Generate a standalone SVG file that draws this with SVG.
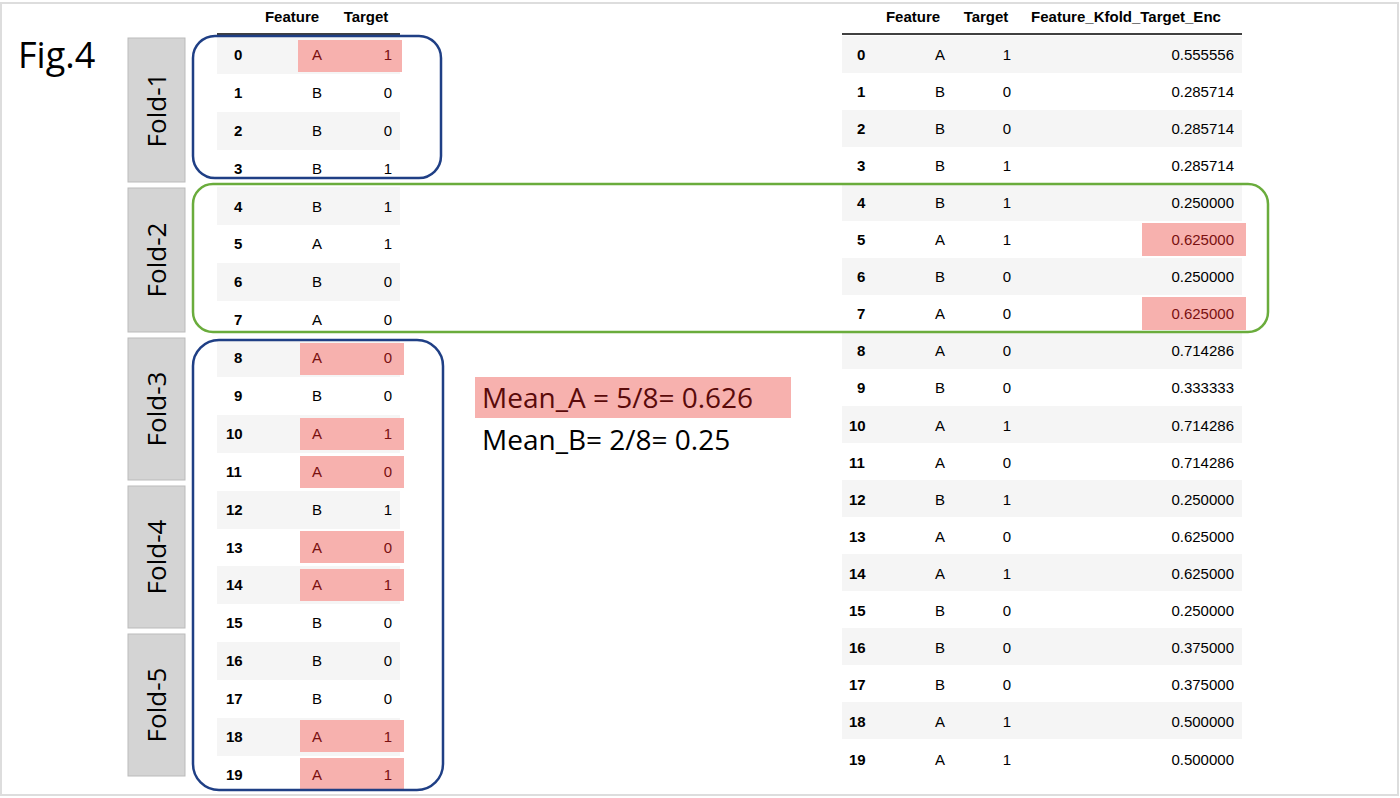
<svg xmlns="http://www.w3.org/2000/svg" width="1400" height="798" viewBox="0 0 1400 798">
<style>
text{font-family:"Liberation Sans",Arial,sans-serif;font-size:15px;fill:#000}
.h{font-weight:bold;font-size:15px}
.i{font-weight:bold}
.fold{fill:#d4d4d4;stroke:#bbb}
.ft{font-family:"Open Sans","Liberation Sans",sans-serif;font-size:26px}
.st{fill:#f5f5f5}
.hl{fill:#f7b1ae}
.ht{fill:#7a1010}
.blue{fill:none;stroke:#1f3f85;stroke-width:2.5}
.green{fill:none;stroke:#6aac3c;stroke-width:2.5}
</style>
<rect width="1400" height="798" fill="#fff"/>
<rect x="1" y="3" width="1397" height="792" fill="none" stroke="#ddd" stroke-width="2"/>
<text x="18" y="68" font-family="Open Sans, sans-serif" style="font-family:'Open Sans',sans-serif;font-size:36px">Fig.4</text>
<g id="folds">
<rect class="fold" x="128" y="38" width="57" height="144"/><text class="ft" transform="translate(166,110) rotate(-90)" text-anchor="middle">Fold-1</text>
<rect class="fold" x="128" y="188" width="57" height="144"/><text class="ft" transform="translate(166,260) rotate(-90)" text-anchor="middle">Fold-2</text>
<rect class="fold" x="128" y="338" width="57" height="142"/><text class="ft" transform="translate(166,409) rotate(-90)" text-anchor="middle">Fold-3</text>
<rect class="fold" x="128" y="486" width="57" height="142"/><text class="ft" transform="translate(166,557) rotate(-90)" text-anchor="middle">Fold-4</text>
<rect class="fold" x="128" y="634" width="57" height="142"/><text class="ft" transform="translate(166,705) rotate(-90)" text-anchor="middle">Fold-5</text>
</g>
<g id="left-table">
<text class="h" x="292" y="22" text-anchor="middle">Feature</text>
<text class="h" x="366" y="22" text-anchor="middle">Target</text>
<line x1="217" y1="34" x2="400" y2="34" stroke="#000" stroke-width="1.5"/>
<g id="lrows"></g>
</g>
<g id="left-rows">
<rect class="st" x="217" y="36" width="183" height="38"/><rect class="st" x="217" y="112" width="183" height="38"/><rect class="st" x="217" y="187" width="183" height="38"/><rect class="st" x="217" y="263" width="183" height="38"/><rect class="st" x="217" y="339" width="183" height="38"/><rect class="st" x="217" y="415" width="183" height="38"/><rect class="st" x="217" y="491" width="183" height="38"/><rect class="st" x="217" y="566" width="183" height="38"/><rect class="st" x="217" y="642" width="183" height="38"/><rect class="st" x="217" y="718" width="183" height="38"/>
<rect class="hl" x="298" y="40" width="104" height="32"/>
<rect class="hl" x="300" y="343" width="104" height="32"/>
<rect class="hl" x="300" y="418" width="104" height="32"/>
<rect class="hl" x="300" y="456" width="104" height="32"/>
<rect class="hl" x="300" y="531" width="104" height="32"/>
<rect class="hl" x="300" y="569" width="104" height="32"/>
<rect class="hl" x="300" y="720" width="104" height="32"/>
<rect class="hl" x="300" y="758" width="104" height="32"/>
<g class="i">
<text class="i" x="234" y="60">0</text><text class="i" x="234" y="98">1</text><text class="i" x="234" y="136">2</text><text class="i" x="234" y="174">3</text><text class="i" x="234" y="212">4</text><text class="i" x="234" y="249">5</text><text class="i" x="234" y="287">6</text><text class="i" x="234" y="325">7</text><text class="i" x="234" y="363">8</text><text class="i" x="234" y="401">9</text><text class="i" x="226" y="439">10</text><text class="i" x="226" y="477">11</text><text class="i" x="226" y="515">12</text><text class="i" x="226" y="553">13</text><text class="i" x="226" y="590">14</text><text class="i" x="226" y="628">15</text><text class="i" x="226" y="666">16</text><text class="i" x="226" y="704">17</text><text class="i" x="226" y="742">18</text><text class="i" x="226" y="780">19</text>
</g>
<g text-anchor="middle">
<text class="ht" x="317" y="60">A</text><text x="317" y="98">B</text><text x="317" y="136">B</text><text x="317" y="174">B</text><text x="317" y="212">B</text><text x="317" y="249">A</text><text x="317" y="287">B</text><text x="317" y="325">A</text><text class="ht" x="317" y="363">A</text><text x="317" y="401">B</text><text class="ht" x="317" y="439">A</text><text class="ht" x="317" y="477">A</text><text x="317" y="515">B</text><text class="ht" x="317" y="553">A</text><text class="ht" x="317" y="590">A</text><text x="317" y="628">B</text><text x="317" y="666">B</text><text x="317" y="704">B</text><text class="ht" x="317" y="742">A</text><text class="ht" x="317" y="780">A</text>
</g>
<g text-anchor="end">
<text class="ht" x="392" y="60">1</text><text x="392" y="98">0</text><text x="392" y="136">0</text><text x="392" y="174">1</text><text x="392" y="212">1</text><text x="392" y="249">1</text><text x="392" y="287">0</text><text x="392" y="325">0</text><text class="ht" x="392" y="363">0</text><text x="392" y="401">0</text><text class="ht" x="392" y="439">1</text><text class="ht" x="392" y="477">0</text><text x="392" y="515">1</text><text class="ht" x="392" y="553">0</text><text class="ht" x="392" y="590">1</text><text x="392" y="628">0</text><text x="392" y="666">0</text><text x="392" y="704">0</text><text class="ht" x="392" y="742">1</text><text class="ht" x="392" y="780">1</text>
</g>
</g>
<g id="right-table">
<text class="h" x="913" y="22" text-anchor="middle">Feature</text>
<text class="h" x="986" y="22" text-anchor="middle">Target</text>
<text class="h" x="1126" y="22" text-anchor="middle">Feature_Kfold_Target_Enc</text>
<line x1="842" y1="34" x2="1242" y2="34" stroke="#000" stroke-width="1.5"/>
<rect class="st" x="842" y="36" width="400" height="37"/><rect class="st" x="842" y="110" width="400" height="37"/><rect class="st" x="842" y="184" width="400" height="37"/><rect class="st" x="842" y="258" width="400" height="37"/><rect class="st" x="842" y="332" width="400" height="37"/><rect class="st" x="842" y="406" width="400" height="37"/><rect class="st" x="842" y="480" width="400" height="37"/><rect class="st" x="842" y="554" width="400" height="37"/><rect class="st" x="842" y="628" width="400" height="37"/><rect class="st" x="842" y="702" width="400" height="37"/>
<rect class="hl" x="1142" y="223" width="104" height="33"/>
<rect class="hl" x="1142" y="297" width="104" height="33"/>
<g>
<text class="i" x="857" y="60">0</text><text class="i" x="857" y="97">1</text><text class="i" x="857" y="134">2</text><text class="i" x="857" y="171">3</text><text class="i" x="857" y="208">4</text><text class="i" x="857" y="245">5</text><text class="i" x="857" y="282">6</text><text class="i" x="857" y="319">7</text><text class="i" x="857" y="356">8</text><text class="i" x="857" y="393">9</text><text class="i" x="849" y="431">10</text><text class="i" x="849" y="468">11</text><text class="i" x="849" y="505">12</text><text class="i" x="849" y="542">13</text><text class="i" x="849" y="579">14</text><text class="i" x="849" y="616">15</text><text class="i" x="849" y="653">16</text><text class="i" x="849" y="690">17</text><text class="i" x="849" y="727">18</text><text class="i" x="849" y="765">19</text>
</g>
<g text-anchor="middle">
<text x="940" y="60">A</text><text x="940" y="97">B</text><text x="940" y="134">B</text><text x="940" y="171">B</text><text x="940" y="208">B</text><text x="940" y="245">A</text><text x="940" y="282">B</text><text x="940" y="319">A</text><text x="940" y="356">A</text><text x="940" y="393">B</text><text x="940" y="431">A</text><text x="940" y="468">A</text><text x="940" y="505">B</text><text x="940" y="542">A</text><text x="940" y="579">A</text><text x="940" y="616">B</text><text x="940" y="653">B</text><text x="940" y="690">B</text><text x="940" y="727">A</text><text x="940" y="765">A</text>
</g>
<g text-anchor="end">
<text x="1011" y="60">1</text><text x="1011" y="97">0</text><text x="1011" y="134">0</text><text x="1011" y="171">1</text><text x="1011" y="208">1</text><text x="1011" y="245">1</text><text x="1011" y="282">0</text><text x="1011" y="319">0</text><text x="1011" y="356">0</text><text x="1011" y="393">0</text><text x="1011" y="431">1</text><text x="1011" y="468">0</text><text x="1011" y="505">1</text><text x="1011" y="542">0</text><text x="1011" y="579">1</text><text x="1011" y="616">0</text><text x="1011" y="653">0</text><text x="1011" y="690">0</text><text x="1011" y="727">1</text><text x="1011" y="765">1</text>
</g>
<g text-anchor="end">
<text x="1234" y="60">0.555556</text><text x="1234" y="97">0.285714</text><text x="1234" y="134">0.285714</text><text x="1234" y="171">0.285714</text><text x="1234" y="208">0.250000</text><text class="ht" x="1234" y="245">0.625000</text><text x="1234" y="282">0.250000</text><text class="ht" x="1234" y="319">0.625000</text><text x="1234" y="356">0.714286</text><text x="1234" y="393">0.333333</text><text x="1234" y="431">0.714286</text><text x="1234" y="468">0.714286</text><text x="1234" y="505">0.250000</text><text x="1234" y="542">0.625000</text><text x="1234" y="579">0.625000</text><text x="1234" y="616">0.250000</text><text x="1234" y="653">0.375000</text><text x="1234" y="690">0.375000</text><text x="1234" y="727">0.500000</text><text x="1234" y="765">0.500000</text>
</g>
</g>
<g id="outlines">
<rect class="blue" x="193" y="36" width="248" height="142" rx="22"/>
<rect class="green" x="193" y="184" width="1075" height="148" rx="20"/>
<rect class="blue" x="193" y="340" width="250" height="450" rx="26"/>
</g>
<g id="means">
<rect class="hl" x="475" y="377" width="316" height="41"/>
<text x="482" y="408" style="font-family:'Open Sans','Liberation Sans',sans-serif;font-size:28px;fill:#5a0a0a">Mean_A = 5/8= 0.626</text>
<text x="482" y="450" style="font-family:'Open Sans','Liberation Sans',sans-serif;font-size:28px">Mean_B= 2/8= 0.25</text>
</g>
</svg>
